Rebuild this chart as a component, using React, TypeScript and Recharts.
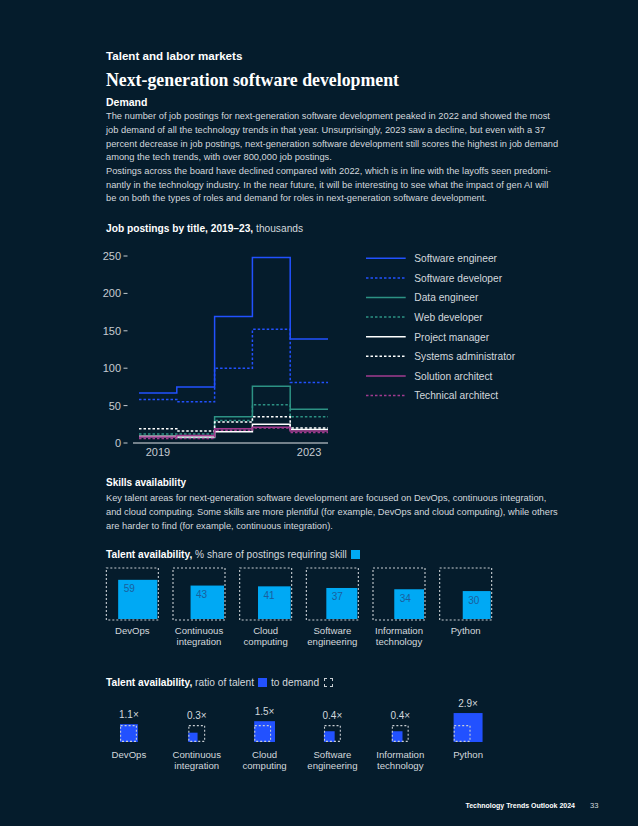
import React from 'react';
import { LineChart, Line, XAxis, YAxis, ScatterChart, Scatter, ZAxis } from 'recharts';

// ---------- data ----------
const years = [2019, 2020, 2021, 2022, 2023];
const softwareEngineer = [67, 75, 169, 248, 139];
const softwareDeveloper = [58, 55, 100, 152, 81];
const dataEngineer = [8, 7, 35, 76, 45];
const webDeveloper = [12, 12, 30, 51, 35];
const projectManager = [9, 8, 15, 25, 18];
const systemsAdministrator = [19, 16, 28, 35, 20];
const solutionArchitect = [8, 10, 19, 21, 16];
const technicalArchitect = [6, 6, 17, 20, 14];
const yTicks = [0, 50, 100, 150, 200, 250];
const labelledYears = [2019, 2023];

const skills = ['DevOps', 'Continuous\nintegration', 'Cloud\ncomputing', 'Software\nengineering', 'Information\ntechnology', 'Python'];
const shareOfPostings = [59, 43, 41, 37, 34, 30];
const talentToDemand = [1.1, 0.3, 1.5, 0.4, 0.4, 2.9];

// ---------- styles ----------
const BG = '#051c2c';
const BLUE = '#2251ff';
const CYAN = '#00a9f4';
const TEAL = '#2d9284';
const MAGENTA = '#a23b8f';
const WHITE = '#ffffff';
const TEXT = '#d3d8dd';
const AXIS = '#c5cbd1';
const DASH_BOX = '#c9ced3';
const SANS = '"Liberation Sans", Arial, sans-serif';
const SERIF = '"Liberation Serif", "Times New Roman", serif';

const series = [
  { key: 'se', name: 'Software engineer', values: softwareEngineer, color: BLUE, dashed: false },
  { key: 'sd', name: 'Software developer', values: softwareDeveloper, color: BLUE, dashed: true },
  { key: 'de', name: 'Data engineer', values: dataEngineer, color: TEAL, dashed: false },
  { key: 'wd', name: 'Web developer', values: webDeveloper, color: TEAL, dashed: true },
  { key: 'pm', name: 'Project manager', values: projectManager, color: WHITE, dashed: false },
  { key: 'sa', name: 'Systems administrator', values: systemsAdministrator, color: WHITE, dashed: true },
  { key: 'so', name: 'Solution architect', values: solutionArchitect, color: MAGENTA, dashed: false },
  { key: 'ta', name: 'Technical architect', values: technicalArchitect, color: MAGENTA, dashed: true },
];

// step rows: one row per year, plus a closing row so the last year's step has width
const stepRows = [
  ...years.map((_, i) => {
    const row: Record<string, number> = { x: i };
    series.forEach((s) => (row[s.key] = s.values[i]));
    return row;
  }),
  (() => {
    const row: Record<string, number> = { x: years.length };
    series.forEach((s) => (row[s.key] = s.values[years.length - 1]));
    return row;
  })(),
];

const availRows = skills.map((s, i) => ({ idx: i, base: 0, pct: shareOfPostings[i] }));
const ratioRows = skills.map((s, i) => ({ idx: i, base: 0, ratio: talentToDemand[i] }));

// ---------- custom pieces ----------
const YTick = (props: any) => {
  const { x, y, payload } = props;
  return (
    <g>
      <text x={x - 12} y={y} dy={3.9} textAnchor="end" fill={AXIS} fontSize={11} fontFamily={SANS}>
        {payload.value}
      </text>
      <line x1={x - 9.5} x2={x - 5.5} y1={y} y2={y} stroke={AXIS} strokeWidth={1} />
    </g>
  );
};

const makeSkillTick = (first: number, gap: number) => (props: any) => {
  const { x, y, payload } = props;
  const lines = skills[payload.value].split('\n');
  return (
    <g>
      {lines.map((l, i) => (
        <text key={i} x={x} y={y + first + i * gap} textAnchor="middle" fill={TEXT} fontSize={9.6} fontFamily={SANS}>
          {l}
        </text>
      ))}
    </g>
  );
};

const sizeOf = (p: any) => (p.size != null ? p.size : Math.PI * Math.pow((p.width || 0) / 2, 2));

const AvailShape = (props: any) => {
  const { cx, cy, payload } = props;
  const S = 52;
  const side = Math.sqrt(Math.max(sizeOf(props), 0));
  const left = cx - S / 2;
  const fx = left + S - 1 - side;
  const fy = cy - 1 - side;
  return (
    <g>
      <rect x={left} y={cy - S} width={S} height={S} fill="none" stroke={DASH_BOX} strokeWidth={1.1} strokeDasharray="2 2" />
      <rect x={fx} y={fy} width={side} height={side} fill={CYAN} />
      <text x={fx + 5.5} y={fy + 12.5} fill="#1a5f9e" fontSize={10} fontFamily={SANS}>
        {payload.pct}
      </text>
    </g>
  );
};

const RatioShape = (props: any) => {
  const { cx, cy, payload } = props;
  const D = 17;
  const side = Math.sqrt(Math.max(sizeOf(props), 0));
  const u = Math.max(side, D);
  const left = cx - u / 2;
  return (
    <g>
      <rect x={left} y={cy - side} width={side} height={side} fill={BLUE} />
      <rect x={left + 0.6} y={cy - D + 0.6} width={D - 1.2} height={D - 1.2} fill="none" stroke={DASH_BOX} strokeWidth={1.1} strokeDasharray="2 2" />
      <text x={cx} y={cy - u - 6.5} textAnchor="middle" fill={TEXT} fontSize={10} fontFamily={SANS}>
        {payload.ratio.toFixed(1) + '×'}
      </text>
    </g>
  );
};

const abs = (top: number, left: number, extra: React.CSSProperties = {}): React.CSSProperties => ({
  position: 'absolute',
  top,
  left,
  whiteSpace: 'nowrap',
  ...extra,
});

const demandLines = [
  'The number of job postings for next-generation software development peaked in 2022 and showed the most',
  'job demand of all the technology trends in that year. Unsurprisingly, 2023 saw a decline, but even with a 37',
  'percent decrease in job postings, next-generation software development still scores the highest in job demand',
  'among the tech trends, with over 800,000 job postings.',
  'Postings across the board have declined compared with 2022, which is in line with the layoffs seen predomi-',
  'nantly in the technology industry. In the near future, it will be interesting to see what the impact of gen AI will',
  'be on both the types of roles and demand for roles in next-generation software development.',
];
const skillsLines = [
  'Key talent areas for next-generation software development are focused on DevOps, continuous integration,',
  'and cloud computing. Some skills are more plentiful (for example, DevOps and cloud computing), while others',
  'are harder to find (for example, continuous integration).',
];

export default function App() {
  return (
    <div
      style={{
        position: 'absolute',
        left: 0,
        top: 0,
        width: 638,
        height: 826,
        background: BG,
        overflow: 'hidden',
        fontFamily: SANS,
        color: TEXT,
      }}
    >
      <div style={abs(48.5, 106, { fontSize: 11.6, lineHeight: '14px', fontWeight: 700, color: WHITE })}>Talent and labor markets</div>
      <div style={abs(69, 106, { fontSize: 17.8, lineHeight: '22px', fontWeight: 700, color: WHITE, fontFamily: SERIF })}>
        Next-generation software development
      </div>
      <div style={abs(96, 106, { fontSize: 10.5, lineHeight: '13px', fontWeight: 700, color: WHITE })}>Demand</div>
      <div style={abs(110.2, 106, { fontSize: 9.3, lineHeight: '13.67px' })}>
        {demandLines.map((l, i) => (
          <div key={i}>{l}</div>
        ))}
      </div>

      <div style={abs(222, 106, { fontSize: 10.2, lineHeight: '14px', color: WHITE })}>
        <b>Job postings by title, 2019–23,</b> <span style={{ color: TEXT }}>thousands</span>
      </div>

      <div style={abs(240, 0)}>
        <LineChart width={340} height={230} data={stepRows} margin={{ top: 16, right: 12, left: 0, bottom: 0 }}>
          <XAxis
            dataKey="x"
            type="number"
            domain={[0, years.length]}
            ticks={labelledYears.map((y) => years.indexOf(y) + 0.5)}
            tickFormatter={(v: number) => String(years[Math.floor(v)])}
            padding={{ left: 6, right: 0 }}
            height={27}
            tickLine={false}
            tickSize={0}
            tickMargin={5}
            axisLine={{ stroke: '#9aa3ab', strokeWidth: 1.5 }}
            tick={{ fill: AXIS, fontSize: 11, fontFamily: SANS }}
          />
          <YAxis
            type="number"
            domain={[0, 250]}
            ticks={yTicks}
            width={133}
            axisLine={false}
            tickLine={false}
            tickSize={0}
            tickMargin={0}
            tick={<YTick />}
            interval={0}
          />
          {series.map((s) => (
            <Line
              key={s.key}
              dataKey={s.key}
              name={s.name}
              type="stepAfter"
              stroke={s.color}
              strokeWidth={1.5}
              strokeDasharray={s.dashed ? '2.5 2' : undefined}
              dot={false}
              activeDot={false}
              isAnimationActive={false}
            />
          ))}
        </LineChart>
      </div>

      <svg style={abs(248, 366)} width={170} height={160}>
        {series.map((s, i) => {
          const cy = 10.3 + i * 19.6;
          return (
            <g key={s.key}>
              <line x1={0} x2={39.7} y1={cy} y2={cy} stroke={s.color} strokeWidth={1.5} strokeDasharray={s.dashed ? '2.5 2' : undefined} />
              <text x={48.3} y={cy + 3.8} fill={TEXT} fontSize={10.2} fontFamily={SANS}>
                {s.name}
              </text>
            </g>
          );
        })}
      </svg>

      <div style={abs(476, 106, { fontSize: 10, lineHeight: '14px', fontWeight: 700, color: WHITE })}>Skills availability</div>
      <div style={abs(491, 106, { fontSize: 9.3, lineHeight: '14px' })}>
        {skillsLines.map((l, i) => (
          <div key={i}>{l}</div>
        ))}
      </div>

      <div style={abs(548, 106, { fontSize: 10.2, lineHeight: '14px', color: WHITE })}>
        <b>Talent availability,</b> <span style={{ color: TEXT }}>% share of postings requiring skill</span>
        <span style={{ display: 'inline-block', width: 9, height: 9, background: CYAN, marginLeft: 4, verticalAlign: -1 }} />
      </div>

      <div style={abs(560, 0)}>
        <ScatterChart width={638} height={100} margin={{ top: 0, right: 139, left: 99, bottom: 0 }}>
          <XAxis
            dataKey="idx"
            type="number"
            domain={[-0.5, skills.length - 0.5]}
            ticks={skills.map((_, i) => i)}
            interval={0}
            height={40}
            axisLine={false}
            tickLine={false}
            tickSize={0}
            tickMargin={0}
            tick={makeSkillTick(14, 11)}
          />
          <YAxis dataKey="base" type="number" domain={[0, 1]} hide />
          <ZAxis dataKey="pct" type="number" domain={[0, 100]} range={[0, 51 * 51]} />
          <Scatter data={availRows} shape={AvailShape} isAnimationActive={false} />
        </ScatterChart>
      </div>

      <div style={abs(676, 106, { fontSize: 10.2, lineHeight: '14px', color: WHITE })}>
        <b>Talent availability,</b> <span style={{ color: TEXT }}>ratio of talent</span>
        <span style={{ display: 'inline-block', width: 9, height: 9, background: BLUE, margin: '0 4px', verticalAlign: -1 }} />
        <span style={{ color: TEXT }}>to demand</span>
        <span
          style={{
            display: 'inline-block',
            width: 7,
            height: 7,
            border: `1px dashed ${DASH_BOX}`,
            marginLeft: 5,
            verticalAlign: -1,
          }}
        />
      </div>

      <div style={abs(690, 0)}>
        <ScatterChart width={638} height={90} margin={{ top: 0, right: 136, left: 95, bottom: 0 }}>
          <XAxis
            dataKey="idx"
            type="number"
            domain={[-0.5, skills.length - 0.5]}
            ticks={skills.map((_, i) => i)}
            interval={0}
            height={38}
            axisLine={false}
            tickLine={false}
            tickSize={0}
            tickMargin={0}
            tick={makeSkillTick(15.6, 11.7)}
          />
          <YAxis dataKey="base" type="number" domain={[0, 1]} hide />
          <ZAxis dataKey="ratio" type="number" domain={[0, 3]} range={[0, 3 * 17 * 17]} />
          <Scatter data={ratioRows} shape={RatioShape} isAnimationActive={false} />
        </ScatterChart>
      </div>

      <div style={abs(801, 0, { width: 575, textAlign: 'right', fontSize: 7.0, lineHeight: '10px', fontWeight: 700, color: WHITE })}>
        Technology Trends Outlook 2024
      </div>
      <div style={abs(801, 590, { fontSize: 7.6, lineHeight: '10px', color: TEXT })}>33</div>
    </div>
  );
}
